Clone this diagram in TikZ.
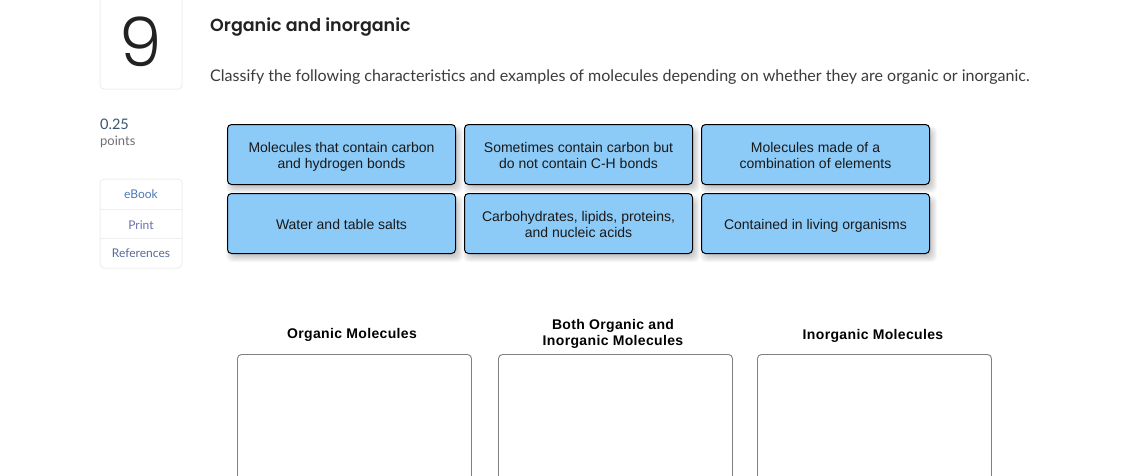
\documentclass[tikz,border=0pt]{standalone}
\usepackage{fontspec}
\setmainfont{Lato}
\newfontfamily\armfont{Liberation Sans}
\newfontfamily\headfont[LetterSpace=2.5]{Liberation Sans}
\newfontfamily\thinfont{Poppins Light}
\newfontfamily\titlefont{Poppins SemiBold}
\definecolor{cardline}{HTML}{EFEFEF}
\definecolor{ink}{HTML}{222222}
\definecolor{bodyink}{HTML}{3C3C3C}
\definecolor{tilefill}{HTML}{8CCAF7}
\definecolor{pointsblue}{HTML}{3B5470}
\definecolor{pointsgray}{HTML}{707070}
\definecolor{linkblue}{HTML}{4A78B8}
\definecolor{linkpurple}{HTML}{6A70B0}
\definecolor{linkslate}{HTML}{5A6A98}
\definecolor{zoneline}{HTML}{808080}
\tikzset{
  tile/.style={draw=black,line width=1pt,fill=tilefill,rounded corners=4pt,minimum width=228pt,minimum height=60pt,inner sep=0pt,font=\armfont\fontsize{14}{16}\selectfont,text=black!90},
  zonehead/.style={align=center,font=\headfont\bfseries\fontsize{14}{16}\selectfont,text=black,inner sep=0pt},
  zone/.style={draw=zoneline,line width=0.9pt,rounded corners=4pt},
  cardrule/.style={draw=cardline,line width=1pt,rounded corners=4pt},
  sidelink/.style={font=\fontsize{12}{14}\selectfont,inner sep=0pt}
}
\newcommand{\tiletext}[1]{\vbox{\kern5pt\hbox{\parbox{215pt}{\centering\strut #1\strut}}}}
\newcommand{\tileshadow}[2]{%
  \foreach \g in {6,5,4,3,2,1,0,-1,-2}{%
    \fill[black,opacity=0.03,rounded corners=6pt]
      ({#1+5-\g},{#2+8-\g}) rectangle ({#1+228+2+\g},{#2+60+3+\g});
  }%
}
\begin{document}
\begin{tikzpicture}[x=1pt,y=-1pt]
\useasboundingbox (0,0) rectangle (1125,475);
\fill[white] (0,0) rectangle (1125,475);
% question number card
\draw[cardrule] (100,-1) -- (100,89) -- (182,89) -- (182,-1);
\node[inner sep=0pt,text=ink,font=\thinfont\fontsize{68}{68}\selectfont] (num) at (141,42) {9};
\node[anchor=west,inner sep=0pt,text=ink,font=\titlefont\fontsize{17.5}{20}\selectfont] (title) at (210,27.5) {Organic and inorganic};
\node[anchor=west,inner sep=0pt,text=bodyink,font=\fontsize{16.03}{18}\selectfont] (prompt) at (210,77) {Classify the following characteristics and examples of molecules depending on whether they are organic or inorganic.};
\node[anchor=west,inner sep=0pt,text=pointsblue,font=\fontsize{14.5}{16}\selectfont] (pts) at (100,124.5) {0.25};
\node[anchor=west,inner sep=0pt,text=pointsgray,font=\fontsize{13}{14}\selectfont] (ptslabel) at (100,141.5) {points};
% side menu
\draw[cardrule] (100,179) rectangle (182,268);
\draw[cardline,line width=1pt] (100,209) -- (182,209) (100,238) -- (182,238);
\node[sidelink,text=linkblue] (ebook) at (141,194) {eBook};
\node[sidelink,text=linkpurple] (print) at (141,225) {Print};
\node[sidelink,text=linkslate] (refs) at (141,253) {References};
% tile shadows
\tileshadow{227}{124}\tileshadow{464}{124}\tileshadow{701}{124}
\tileshadow{227}{193}\tileshadow{464}{193}\tileshadow{701}{193}
% tiles
\node[tile,anchor=north west] (t1) at (227,124) {\tiletext{Molecules that contain carbon\\and hydrogen bonds}};
\node[tile,anchor=north west] (t2) at (464,124) {\tiletext{Sometimes contain carbon but\\do not contain C-H bonds}};
\node[tile,anchor=north west] (t3) at (701,124) {\tiletext{Molecules made of a\\combination of elements}};
\node[tile,anchor=north west] (t4) at (227,193) {\tiletext{Water and table salts}};
\node[tile,anchor=north west] (t5) at (464,193) {\tiletext{Carbohydrates, lipids, proteins,\\and nucleic acids}};
\node[tile,anchor=north west] (t6) at (701,193) {\tiletext{Contained in living organisms}};
% drop zones
\node[zonehead] (h1) at (352,335) {Organic Molecules};
\node[zonehead] (h2) at (613,334) {Both Organic and\\Inorganic Molecules};
\node[zonehead] (h3) at (873,336) {Inorganic Molecules};
\draw[zone] (237.5,476) -- (237.5,354.5) -- (471.5,354.5) -- (471.5,476);
\draw[zone] (498.5,476) -- (498.5,354.5) -- (732.5,354.5) -- (732.5,476);
\draw[zone] (757.5,476) -- (757.5,354.5) -- (991.5,354.5) -- (991.5,476);
\end{tikzpicture}
\end{document}
